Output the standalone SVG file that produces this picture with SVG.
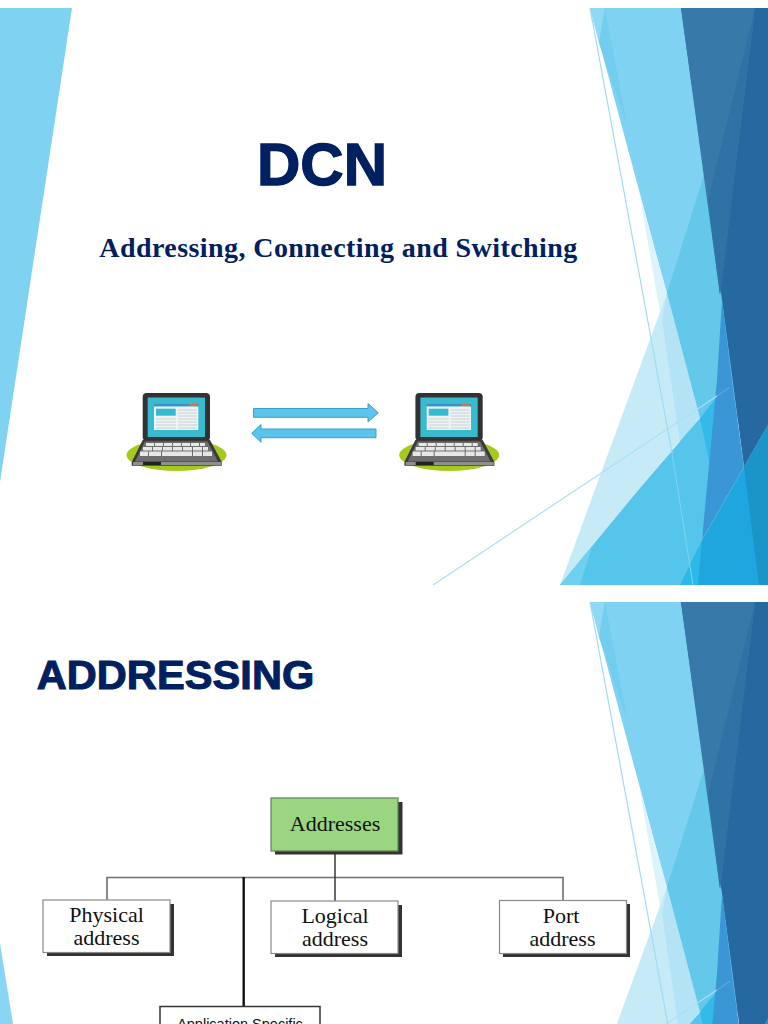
<svg xmlns="http://www.w3.org/2000/svg" width="768" height="1024" viewBox="0 0 768 1024">
<style>
.t1{font-family:"Liberation Sans",Arial,sans-serif;font-weight:700;fill:#002060;stroke:#002060}
.t2{font-family:"Liberation Serif","Times New Roman",serif;font-weight:700;fill:#002060}
.lab{font-family:"Liberation Serif","Times New Roman",serif;font-size:22px;fill:#111;text-anchor:middle}
.box{fill:#fff;stroke:#8a8a8a;stroke-width:1.2}
.sh{fill:#333}
.conn{fill:none;stroke:#6f6f6f;stroke-width:1.6}
.arr{fill:#5bc4ea;stroke:#3a9fc9;stroke-width:1}
.key{fill:#e6e8e8}
.ln{stroke:#b9c7cb;stroke-width:.8}
</style>
<defs>
<clipPath id="slideClip"><rect x="0" y="8" width="768" height="577"/></clipPath>
<filter id="soft" x="-5%" y="-5%" width="110%" height="110%"><feGaussianBlur stdDeviation="0.45"/></filter>
<g id="deco" clip-path="url(#slideClip)">
  <polygon points="590,8 690,8 745,420 700,417" fill="#7fd2f1"/>
  <polygon points="590,8 605,8 599,43" fill="#8fd9f4"/>
  <polygon points="605,8 627,125 599,43" fill="#72cdef"/>
  <polygon points="640,197 667,293 665,310 661,318" fill="#dcf3fb"/>
  <polygon points="667,293 700,417 640,488 592,547 580,585 560,585" fill="#c6ebf7"/>
  <polygon points="667,293 662,320 680,443 700,417" fill="#b3e3f5"/>
  <polygon points="704,175 722,300 725,320 717,397 700,418 667,293" fill="#63c8ea"/>
  <polygon points="560,585 640,488 700,418 717,397 712,470 702,540 680,585" fill="#55c5ec"/>
  <polygon points="560,585 592,547 580,585" fill="#6fd0ef"/>
  <polygon points="700,418 717,397 711,470" fill="#34bae9"/>
  <polygon points="681,8 768,8 768,425 744,467 722,300" fill="#2669a0"/>
  <polygon points="681,8 755,8 720,295" fill="#3779a8"/>
  <polygon points="708,200 755,8 720,295" fill="#2f73a6"/>
  <polygon points="722,300 732,380 744,467 702,540 717,380" fill="#3a96d4"/>
  <polygon points="680,585 702,540 744,467 768,425 768,585" fill="#1fa6de"/>
  <polygon points="680,585 702,540 698,585" fill="#2cb8e8"/>
  <polygon points="744,467 768,425 768,585 759,585" fill="#1b94c8"/>
  <path d="M433,585 L717,396" fill="none" stroke="#a8e0f4" stroke-width="1.2"/>
  <path d="M717,396 L730,387" fill="none" stroke="#5aa9dc" stroke-width="1.2"/>
  <path d="M590,8 L644,300 L672,453" fill="none" stroke="#9fdcf3" stroke-width="1.2"/>
  <path d="M672,453 L693,585" fill="none" stroke="#7fd3f0" stroke-width="1"/>
</g>
<g id="laptop" filter="url(#soft)">
  <ellipse cx="176.5" cy="455" rx="50" ry="16" fill="#a5c91e"/>
  <rect x="142.7" y="393" width="67.3" height="48" rx="4" fill="#333"/>
  <rect x="147.7" y="397.5" width="57.3" height="39.5" fill="#38bacf"/>
  <rect x="154" y="404" width="44.3" height="2.2" fill="#3a8fc8"/>
  <rect x="189" y="404" width="8" height="2.2" fill="#e0703c"/>
  <rect x="154" y="406.5" width="44.3" height="23.5" fill="#eef3f4"/>
  <rect x="156" y="408.7" width="19.7" height="7" fill="#35b9cf"/>
  <path class="ln" d="M178,410H197M178,413H197M178,416H197M178,419H197M156,419H176M178,422H197M156,422H176M178,425H197M156,425H176M178,428H197M156,428H176"/>
  <polygon points="142.7,440 210,440 221.7,462 221.7,465.7 131.7,465.7 131.7,462" fill="#3a3a3a"/>
  <polygon points="145,441.5 207.5,441.5 218,461.5 135,461.5" fill="#6e6e6e"/>
  <path class="key" d="M146,443h8v3h-8zM155,443h8v3h-8zM164,443h8v3h-8zM173,443h8v3h-8zM182,443h8v3h-8zM191,443h8v3h-8zM200,443h5v3h-5zM143,447h9v3.5h-9zM153,447h9v3.5h-9zM163,447h9v3.5h-9zM173,447h9v3.5h-9zM183,447h9v3.5h-9zM193,447h9v3.5h-9zM203,447h5v3.5h-5zM140,451.5h8v4.5h-8zM149,451.5h12v4.5h-12zM162,451.5h30v4.5h-30zM193,451.5h9v4.5h-9zM203,451.5h9v4.5h-9z"/>
  <rect x="133" y="462" width="88" height="3" fill="#8f8f8f"/>
  <rect x="143" y="462" width="18" height="3" fill="#222"/>
</g>
</defs>

<rect width="768" height="1024" fill="#fff"/>

<g id="slide1">
  <polygon points="0,8 72,8 0,482" fill="#7fd2f1"/>
  <use href="#deco"/>
  <text class="t1" x="322" y="185" font-size="60" stroke-width="1.4" text-anchor="middle">DCN</text>
  <text class="t2" x="338.5" y="257" font-size="28" letter-spacing="0.42" text-anchor="middle">Addressing, Connecting and Switching</text>
  <g id="laptop-left"><use href="#laptop"/></g>
  <g id="laptop-right"><use href="#laptop" transform="translate(272.7,0)"/></g>
  <g id="arrows">
    <polygon class="arr" points="253.5,408.5 368,408.5 368,403.5 378.3,412.8 368,422 368,417.3 253.5,417.3"/>
    <polygon class="arr" points="376,429 261,429 261,424.5 251.7,433.3 261,442.3 261,437.7 376,437.7"/>
  </g>
</g>

<g id="slide2">
  <use href="#deco" transform="translate(0,594)"/>
  <polygon points="0,943 13,1024 0,1024" fill="#88d6f3"/>
  <text class="t1" x="175.5" y="688.5" font-size="41.5" stroke-width="1.1" letter-spacing="0.1" text-anchor="middle">ADDRESSING</text>
</g>

<g id="connectors">
  <path class="conn" d="M107,900V877.5H563V901"/>
  <path d="M335,853V901" fill="none" stroke="#444" stroke-width="1.6"/>
  <path d="M243.7,877V1007" fill="none" stroke="#111" stroke-width="2.4"/>
</g>

<g id="node-addresses">
  <rect class="sh" x="275" y="802" width="127.5" height="52.5"/>
  <rect x="271" y="798" width="127" height="53" fill="#9ad57f" stroke="#5c8453" stroke-width="1.2"/>
  <text class="lab" x="335" y="831">Addresses</text>
</g>
<g id="node-physical">
  <rect class="sh" x="47" y="904" width="127" height="52"/>
  <rect class="box" x="43" y="900" width="127" height="52.5"/>
  <text class="lab" x="106.5" y="922">Physical</text>
  <text class="lab" x="106.5" y="945">address</text>
</g>
<g id="node-logical">
  <rect class="sh" x="275" y="905" width="127" height="52"/>
  <rect class="box" x="271" y="901" width="127" height="52.5"/>
  <text class="lab" x="335" y="923">Logical</text>
  <text class="lab" x="335" y="946">address</text>
</g>
<g id="node-port">
  <rect class="sh" x="503" y="904" width="127" height="53"/>
  <rect class="box" x="499.5" y="900.5" width="127" height="53"/>
  <text class="lab" x="561" y="923">Port</text>
  <text class="lab" x="562.5" y="946">address</text>
</g>
<g id="node-application">
  <rect x="160" y="1006.5" width="160" height="40" fill="#fff" stroke="#333" stroke-width="1.5"/>
  <text x="240" y="1029" font-size="14.5" text-anchor="middle" fill="#111" font-family="'Liberation Sans',Arial,sans-serif">Application Specific</text>
</g>
</svg>
